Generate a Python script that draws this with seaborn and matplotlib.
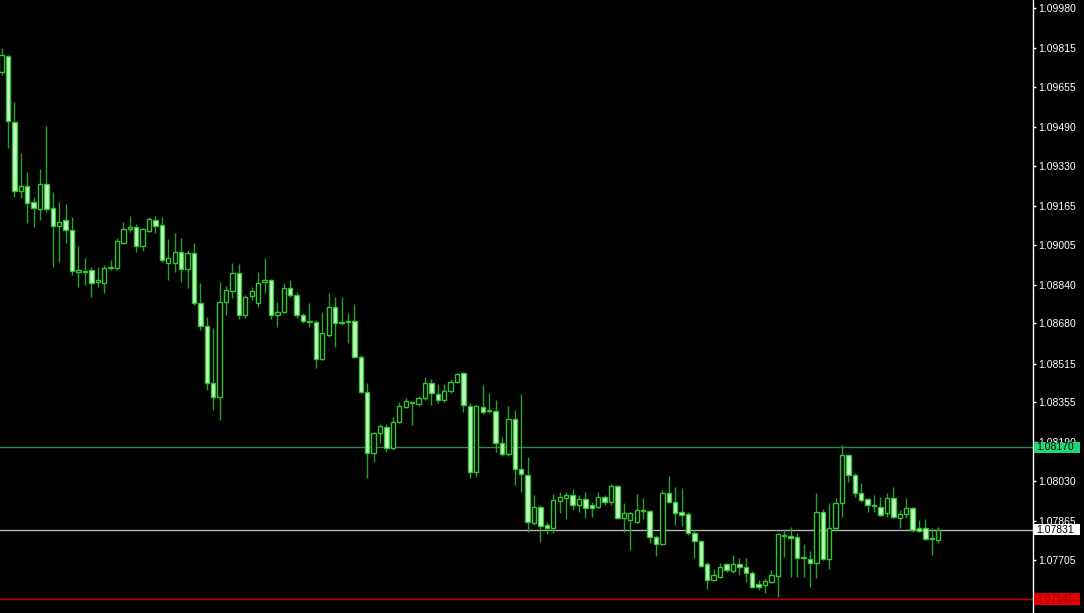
import numpy as np
import pandas as pd
import matplotlib
matplotlib.use("Agg")
import matplotlib.pyplot as plt
import matplotlib.transforms as mtransforms
from matplotlib.patches import Rectangle
import seaborn as sns


# ---------------------------------------------------------------
# OHLC candles (oldest -> newest)

opens = [
    1.09716, 1.09782, 1.09510, 1.09226, 1.09246, 1.09181, 1.09152, 1.09255, 1.09156, 1.09082,
    1.09106, 1.09065, 1.08892, 1.08896, 1.08900, 1.08851, 1.08847, 1.08909, 1.08909, 1.09012,
    1.09069, 1.09078, 1.08999, 1.09061, 1.09106, 1.09086, 1.08929, 1.08929, 1.08975, 1.08904,
    1.08970, 1.08764, 1.08670, 1.08435, 1.08377, 1.08768, 1.08814, 1.08888, 1.08715, 1.08793,
    1.08764, 1.08851, 1.08859, 1.08715, 1.08727, 1.08826, 1.08797, 1.08715, 1.08686, 1.08686,
    1.08534, 1.08632, 1.08748, 1.08682, 1.08686, 1.08690, 1.08542, 1.08398, 1.08146, 1.08229,
    1.08253, 1.08167, 1.08274, 1.08336, 1.08352, 1.08348, 1.08373, 1.08435, 1.08389, 1.08365,
    1.08402, 1.08439, 1.08476, 1.08340, 1.08068, 1.08336, 1.08319, 1.08319, 1.08187, 1.08142,
    1.08286, 1.08080, 1.08056, 1.07858, 1.07924, 1.07849, 1.07837, 1.07948, 1.07961, 1.07973,
    1.07932, 1.07957, 1.07932, 1.07924, 1.07965, 1.07944, 1.08010, 1.07878, 1.07870, 1.07862,
    1.07907, 1.07907, 1.07800, 1.07771, 1.07981, 1.07944, 1.07903, 1.07895, 1.07817, 1.07784,
    1.07689, 1.07623, 1.07635, 1.07689, 1.07660, 1.07689, 1.07676, 1.07652, 1.07606, 1.07602,
    1.07615, 1.07639, 1.07804, 1.07804, 1.07800, 1.07713, 1.07709, 1.07693, 1.07903, 1.07709,
    1.07837, 1.07940, 1.08138, 1.08056, 1.07981, 1.07957, 1.07932, 1.07924, 1.07899, 1.07961,
    1.07878, 1.07895, 1.07920, 1.07837, 1.07837, 1.07796, 1.07788,
]

highs = [
    1.09815, 1.09786, 1.09593, 1.09382, 1.09304, 1.09201, 1.09317, 1.09494, 1.09222, 1.09181,
    1.09172, 1.09119, 1.08999, 1.08950, 1.08913, 1.08913, 1.08921, 1.08942, 1.09032, 1.09098,
    1.09123, 1.09090, 1.09073, 1.09119, 1.09123, 1.09119, 1.09028, 1.09053, 1.09032, 1.08983,
    1.09012, 1.08847, 1.08707, 1.08661, 1.08851, 1.08834, 1.08929, 1.08925, 1.08797, 1.08830,
    1.08892, 1.08950, 1.08863, 1.08768, 1.08847, 1.08859, 1.08810, 1.08723, 1.08764, 1.08694,
    1.08727, 1.08806, 1.08789, 1.08789, 1.08723, 1.08760, 1.08550, 1.08435, 1.08233, 1.08266,
    1.08266, 1.08295, 1.08356, 1.08373, 1.08360, 1.08381, 1.08459, 1.08451, 1.08431, 1.08431,
    1.08451, 1.08476, 1.08480, 1.08352, 1.08344, 1.08426, 1.08393, 1.08365, 1.08212, 1.08340,
    1.08323, 1.08389, 1.08130, 1.07973, 1.07932, 1.07862, 1.07977, 1.07985, 1.07985, 1.07998,
    1.07973, 1.07985, 1.07944, 1.07985, 1.07973, 1.08018, 1.08014, 1.07940, 1.07903, 1.07977,
    1.07961, 1.07911, 1.07808, 1.07994, 1.08051, 1.08006, 1.08002, 1.07903, 1.07829, 1.07788,
    1.07697, 1.07668, 1.07693, 1.07693, 1.07726, 1.07713, 1.07713, 1.07660, 1.07623, 1.07631,
    1.07664, 1.07817, 1.07829, 1.07841, 1.07817, 1.07771, 1.07742, 1.07981, 1.07915, 1.07940,
    1.07961, 1.08179, 1.08142, 1.08064, 1.08023, 1.07961, 1.07973, 1.07965, 1.07981, 1.08006,
    1.07911, 1.07961, 1.07924, 1.07870, 1.07874, 1.07837, 1.07841,
]

lows = [
    1.09704, 1.09403, 1.09201, 1.09197, 1.09094, 1.09078, 1.09106, 1.09139, 1.08913, 1.08933,
    1.09012, 1.08880, 1.08830, 1.08839, 1.08789, 1.08830, 1.08806, 1.08900, 1.08900, 1.09007,
    1.09057, 1.08975, 1.08979, 1.09057, 1.09053, 1.08933, 1.08859, 1.08892, 1.08851, 1.08826,
    1.08756, 1.08653, 1.08406, 1.08323, 1.08282, 1.08715, 1.08785, 1.08698, 1.08703, 1.08777,
    1.08748, 1.08806, 1.08698, 1.08665, 1.08723, 1.08789, 1.08703, 1.08682, 1.08665, 1.08496,
    1.08529, 1.08624, 1.08583, 1.08674, 1.08599, 1.08538, 1.08393, 1.08043, 1.08109, 1.08187,
    1.08150, 1.08159, 1.08270, 1.08332, 1.08262, 1.08340, 1.08365, 1.08344, 1.08352, 1.08356,
    1.08393, 1.08435, 1.08315, 1.08043, 1.08047, 1.08307, 1.08311, 1.08150, 1.08134, 1.08134,
    1.08014, 1.07985, 1.07821, 1.07849, 1.07779, 1.07812, 1.07817, 1.07899, 1.07874, 1.07911,
    1.07903, 1.07878, 1.07882, 1.07920, 1.07932, 1.07932, 1.07874, 1.07821, 1.07746, 1.07858,
    1.07874, 1.07775, 1.07722, 1.07767, 1.07940, 1.07849, 1.07845, 1.07808, 1.07713, 1.07676,
    1.07586, 1.07619, 1.07631, 1.07656, 1.07652, 1.07643, 1.07615, 1.07590, 1.07582, 1.07569,
    1.07610, 1.07553, 1.07718, 1.07635, 1.07635, 1.07635, 1.07594, 1.07631, 1.07705, 1.07668,
    1.07829, 1.07882, 1.08027, 1.07965, 1.07944, 1.07903, 1.07903, 1.07887, 1.07882, 1.07878,
    1.07837, 1.07878, 1.07821, 1.07821, 1.07788, 1.07726, 1.07775,
]

closes = [
    1.09786, 1.09514, 1.09226, 1.09246, 1.09176, 1.09156, 1.09255, 1.09152, 1.09082, 1.09098,
    1.09065, 1.08896, 1.08900, 1.08892, 1.08847, 1.08859, 1.08909, 1.08913, 1.09020, 1.09069,
    1.09078, 1.08999, 1.09069, 1.09111, 1.09082, 1.08942, 1.08950, 1.08975, 1.08904, 1.08970,
    1.08764, 1.08670, 1.08435, 1.08377, 1.08768, 1.08818, 1.08888, 1.08715, 1.08789, 1.08814,
    1.08847, 1.08859, 1.08715, 1.08727, 1.08826, 1.08797, 1.08715, 1.08690, 1.08690, 1.08534,
    1.08641, 1.08748, 1.08682, 1.08686, 1.08690, 1.08542, 1.08398, 1.08146, 1.08229, 1.08257,
    1.08167, 1.08274, 1.08340, 1.08360, 1.08356, 1.08373, 1.08435, 1.08393, 1.08365, 1.08402,
    1.08439, 1.08472, 1.08344, 1.08068, 1.08340, 1.08315, 1.08323, 1.08187, 1.08142, 1.08286,
    1.08080, 1.08060, 1.07862, 1.07924, 1.07845, 1.07837, 1.07953, 1.07965, 1.07973, 1.07932,
    1.07957, 1.07920, 1.07920, 1.07965, 1.07944, 1.08010, 1.07878, 1.07899, 1.07899, 1.07911,
    1.07911, 1.07800, 1.07771, 1.07981, 1.07944, 1.07899, 1.07891, 1.07817, 1.07784, 1.07681,
    1.07623, 1.07643, 1.07676, 1.07664, 1.07689, 1.07676, 1.07652, 1.07594, 1.07594, 1.07619,
    1.07643, 1.07812, 1.07808, 1.07796, 1.07713, 1.07718, 1.07693, 1.07903, 1.07709, 1.07837,
    1.07940, 1.08138, 1.08056, 1.07981, 1.07953, 1.07932, 1.07928, 1.07891, 1.07961, 1.07882,
    1.07895, 1.07920, 1.07829, 1.07825, 1.07792, 1.07792, 1.07831,
]

# price scale on the right
price_ticks = [1.09980, 1.09815, 1.09655, 1.09490, 1.09330, 1.09165, 1.09005, 1.08840,
               1.08680, 1.08515, 1.08355, 1.08190, 1.08030, 1.07865, 1.07705]

# horizontal levels: (price, line colour, box colour, text colour)
level_prices = [1.08170, 1.07831, 1.07545]
level_line_colors = ["#2e8b4f", "#b4b4b4", "#c80000"]
level_box_colors = ["#1fd877", "#ffffff", "#e60000"]
level_text_colors = ["#000000", "#000000", "#9a0000"]


# ---------------------------------------------------------------
# Style

sns.set_theme(style="dark", rc={
    "figure.facecolor": "black",
    "axes.facecolor": "black",
    "axes.grid": False,
    "savefig.facecolor": "black",
})
plt.rcParams["font.family"] = ["Liberation Sans", "DejaVu Sans"]

df = pd.DataFrame({"open": opens, "high": highs, "low": lows, "close": closes})
df["idx"] = np.arange(len(df))
df["bull"] = df["close"] >= df["open"]

WICK = "#24a324"
EDGE = "#36c236"
BEAR_FILL = "#c2f6c2"

fig = plt.figure(figsize=(10.84, 6.13), dpi=100)
ax = fig.add_axes([0, 0, 1033 / 1084, 1])

# wicks first so hollow bodies hide them
ax.vlines(df["idx"], df["low"], df["high"], color=WICK, linewidth=1.0, zorder=2)

bull = df[df["bull"]]
bear = df[~df["bull"]]
ax.bar(bull["idx"], bull["close"] - bull["open"], bottom=bull["open"], width=0.68,
       facecolor="black", edgecolor=EDGE, linewidth=1.0, zorder=3)
ax.bar(bear["idx"], bear["open"] - bear["close"], bottom=bear["close"], width=0.68,
       facecolor=BEAR_FILL, edgecolor=EDGE, linewidth=1.0, zorder=3)

# levels
for p, lc in zip(level_prices, level_line_colors):
    ax.axhline(p, color=lc, linewidth=1.0, zorder=1)

ax.set_xlim(-0.234, 160.77)
ax.set_ylim(1.07487, 1.10013)

# right-hand price axis
sns.despine(ax=ax, left=True, bottom=True, top=True, right=False)
ax.spines["right"].set_color("white")
ax.spines["right"].set_linewidth(1.0)
ax.yaxis.tick_right()
ax.set_yticks(price_ticks)
ax.set_yticklabels([f"{t:.5f}" for t in price_ticks])
ax.tick_params(axis="y", colors="white", labelcolor="white", length=2, width=1,
               pad=1.5, labelsize=7.5, right=True, left=False)
ax.set_xticks([])

# price boxes on the scale (they sit over the nearby scale labels, as in the terminal)
trans = mtransforms.blended_transform_factory(ax.transAxes, ax.transData)
box_h = 0.00046
for p, bc, tc in zip(level_prices, level_box_colors, level_text_colors):
    ax.add_patch(Rectangle((1.001, p - box_h / 2), 0.0445, box_h, transform=trans,
                           facecolor=bc, edgecolor="none", clip_on=False, zorder=5))
    ax.text(1.0035, p, f"{p:.5f}", transform=trans, color=tc, fontsize=7.5,
            ha="left", va="center", clip_on=False, zorder=6)

fig.savefig("out.png", dpi=100, facecolor="black")
